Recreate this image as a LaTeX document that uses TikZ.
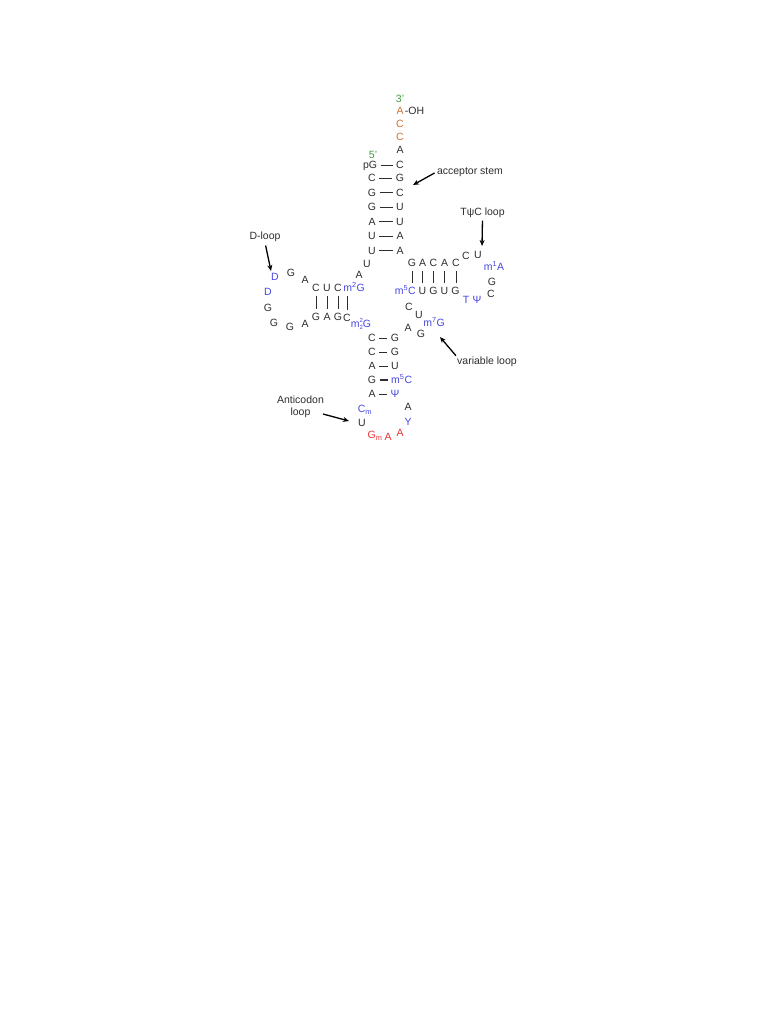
\documentclass[tikz,border=0pt]{standalone}
\usepackage{fontspec}
\setmainfont{Liberation Sans}
\usetikzlibrary{arrows.meta}
\definecolor{grn}{RGB}{60,155,60}
\definecolor{org}{RGB}{205,115,50}
\definecolor{blu}{RGB}{70,70,225}
\definecolor{rd}{RGB}{235,50,50}
\definecolor{ink}{RGB}{45,45,45}
\newcommand{\stackscr}[2]{\rlap{\raisebox{4.6pt}{\fontsize{6}{6}\selectfont #1}}\raisebox{-2.6pt}{\fontsize{6}{6}\selectfont #2}}
\begin{document}
\begin{tikzpicture}[x=1pt,y=-1pt,
  nt/.style={inner sep=0.5pt, text height=7.5pt, text depth=0pt, font=\fontsize{10.5}{12}\selectfont, text=ink},
  bl/.style={nt,text=blu},
  rdn/.style={nt,text=rd},
  pr/.style={draw=ink, line width=0.9pt, shorten >=3pt, shorten <=3pt},
  prb/.style={pr, line width=1.8pt},
  bar/.style={draw=ink, line width=1pt, shorten >=3.5pt, shorten <=3.5pt},
  lab/.style={font=\fontsize{10.5}{12}\selectfont, text=ink, inner sep=0.5pt},
  arr/.style={draw=black, line width=1.3pt, -{Stealth[length=6pt,width=5pt]}}]
\useasboundingbox (0,0) rectangle (768,1024);
% acceptor end
\node[nt,text=grn] (p3) at (400,99) {3'};
\node[nt,text=org] (a76) at (400,111) {A};
\node[nt,anchor=west] (oh) at (a76.east) {-OH};
\node[nt,text=org] (c75) at (400,124) {C};
\node[nt,text=org] (c74) at (400,137) {C};
\node[nt] (a73) at (400,150) {A};
\node[nt,text=grn] (p5) at (373,155) {5'};
% acceptor stem
\node[nt] (g1) at (370,165) {pG};    \node[nt] (c72) at (400,165) {C};
\node[nt] (c2) at (372,178) {C};     \node[nt] (g71) at (400,178) {G};
\node[nt] (g3) at (372,192.5) {G};   \node[nt] (c70) at (400,192.5) {C};
\node[nt] (g4) at (372,207) {G};     \node[nt] (u69) at (400,207) {U};
\node[nt] (a5) at (372,221.5) {A};   \node[nt] (u68) at (400,221.5) {U};
\node[nt] (u6) at (372,236) {U};     \node[nt] (a67) at (400,236) {A};
\node[nt] (u7) at (372,250.5) {U};   \node[nt] (a66) at (400,250.5) {A};
\draw[pr] (g1) -- (c72);
\draw[pr] (c2) -- (g71);
\draw[pr] (g3) -- (c70);
\draw[pr] (g4) -- (u69);
\draw[prb] (a5) -- (u68);
\draw[pr] (u6) -- (a67);
\draw[pr] (u7) -- (a66);
% junction
\node[nt] (u8) at (367,264) {U};
\node[nt] (a9) at (359,275) {A};
% D arm
\node[nt] (c10) at (316,288) {C};
\node[nt] (u11) at (327,288) {U};
\node[nt] (c12) at (338,288) {C};
\node[bl] (g13) at (354,288) {m\textsuperscript{2}G};
\node[nt] (a14) at (305,280) {A};
\node[nt] (g15) at (291,273) {G};
\node[bl] (d16) at (275,277) {D};
\node[bl] (d17) at (268,292) {D};
\node[nt] (g18) at (268,308) {G};
\node[nt] (g19) at (274,323) {G};
\node[nt] (g20) at (290,327) {G};
\node[nt] (a21) at (305,324) {A};
\node[nt] (g22) at (316,317) {G};
\node[nt] (a23) at (327,317) {A};
\node[nt] (g24) at (338,317) {G};
\node[nt] (c25) at (347,317.5) {C};
\node[bl] (g26) at (361,323.5) {m\stackscr{2}{2}G};
\draw[bar] (c10.south) -- (c10.south |- g22.north);
\draw[bar] (u11.south) -- (u11.south |- a23.north);
\draw[bar] (c12.south) -- (c12.south |- g24.north);
\draw[bar] (c25.north) -- (c25.north |- g13.south);
% anticodon stem
\node[nt] (c27) at (372,338) {C};   \node[nt] (g43) at (395,338) {G};
\node[nt] (c28) at (372,352) {C};   \node[nt] (g42) at (395,352) {G};
\node[nt] (a29) at (372,366) {A};   \node[nt] (u41) at (395,366) {U};
\node[nt] (g30) at (372,380) {G};   \node[bl,anchor=west] (c40) at (390.5,380) {m\textsuperscript{5}C};
\node[nt] (a31) at (372,394) {A};   \node[bl] (p39) at (395,394) {Ψ};
\draw[pr] (c27) -- (g43);
\draw[pr] (c28) -- (g42);
\draw[pr] (a29) -- (u41);
\draw[prb] (g30) -- (c40);
\draw[pr] (a31) -- (p39);
% anticodon loop
\node[bl] (cm32) at (365,409) {C\textsubscript{m}};
\node[nt] (u33) at (362,423) {U};
\node[rdn] (gm34) at (375,435) {G\textsubscript{m}};
\node[rdn] (a35) at (388,437) {A};
\node[rdn] (a36) at (400,433) {A};
\node[bl] (y37) at (408,422) {Y};
\node[nt] (a38) at (408,407) {A};
% variable loop
\node[nt] (a44) at (408,328) {A};
\node[nt] (g45) at (421,334) {G};
\node[bl] (g46) at (434,323) {m\textsuperscript{7}G};
\node[nt] (u47) at (419,315) {U};
\node[nt] (c48) at (409,307) {C};
% T arm
\node[bl,anchor=east] (c49) at (416.5,291) {m\textsuperscript{5}C};
\node[nt] (u50) at (422.5,291) {U};
\node[nt] (g51) at (433.5,291) {G};
\node[nt] (u52) at (444.5,291) {U};
\node[nt] (g53) at (455.5,291) {G};
\node[bl] (t54) at (466,300) {T};
\node[bl] (p55) at (477,300) {Ψ};
\node[nt] (c56) at (491,294) {C};
\node[nt] (g57) at (492,282) {G};
\node[bl] (m58) at (494,267) {m\textsuperscript{1}A};
\node[nt] (u59) at (478,255) {U};
\node[nt] (c60) at (466,256) {C};
\node[nt] (c61) at (456,263) {C};
\node[nt] (a62) at (444.5,263) {A};
\node[nt] (c63) at (433.5,263) {C};
\node[nt] (a64) at (422.5,263) {A};
\node[nt] (g65) at (412,263) {G};
\draw[bar] (g65.south) -- (g65.south |- c49.north);
\draw[bar] (a64.south) -- (u50.north);
\draw[bar] (c63.south) -- (g51.north);
\draw[bar] (a62.south) -- (u52.north);
\draw[bar] (c61.south) -- (c61.south |- g53.north);
% labels and arrows
\node[lab] (accl) at (470,172) {acceptor stem};
\coordinate (acct) at (413,185);
\draw[arr, shorten <=2pt] (accl.west) -- (acct);
\node[lab] (tpcl) at (482.5,213) {TψC loop};
\coordinate (tpct) at (482,246);
\draw[arr, shorten <=2pt] (tpcl.south) -- (tpct);
\node[lab] (dl) at (265,237) {D-loop};
\coordinate (dlt) at (271,271);
\draw[arr, shorten <=3pt] (dl.south) -- (dlt);
\node[lab] (vl) at (487,362) {variable loop};
\coordinate (vlt) at (440,337);
\draw[arr, shorten <=1pt] (vl.north west) -- (vlt);
\node[lab, align=center] (acl) at (300.5,407) {Anticodon\\loop};
\coordinate (acs) at (323,414);
\coordinate (act) at (349,421);
\draw[arr] (acs) -- (act);
\end{tikzpicture}
\end{document}
